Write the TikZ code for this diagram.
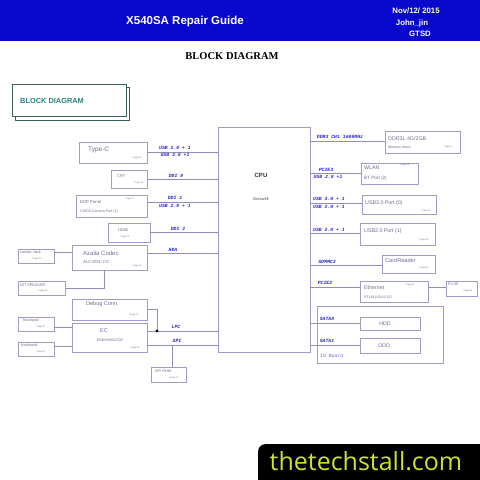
\documentclass[tikz,border=0pt]{standalone}
\usepackage{fontspec}
\setmainfont{Liberation Sans}
\newfontfamily\serifb{Liberation Serif}
\newfontfamily\monof{Liberation Mono}
\newfontfamily\wmfont{Open Sans}
\usetikzlibrary{fit}
\definecolor{hdrblue}{RGB}{8,8,204}
\definecolor{boxc}{RGB}{160,155,200}
\definecolor{linec}{RGB}{145,140,185}
\definecolor{txtc}{RGB}{110,110,150}
\definecolor{labc}{RGB}{40,40,200}
\definecolor{tealc}{RGB}{40,130,130}
\definecolor{framec}{RGB}{60,95,95}
\definecolor{wmc}{RGB}{205,225,45}
\tikzset{
  box/.style={draw=boxc, line width=0.6pt, inner sep=0pt},
  conn/.style={draw=linec, line width=0.6pt},
  bt/.style={text=txtc, inner sep=0pt, anchor=west, font=\fontsize{5}{6}\selectfont},
  pg/.style={text=txtc, inner sep=0pt, font=\fontsize{2.3}{2.6}\selectfont},
  lab/.style={text=labc, inner sep=0pt, font=\monof\bfseries\itshape\fontsize{4.8}{5}\selectfont},
}
\begin{document}
\begin{tikzpicture}[x=1pt,y=-1pt]
\useasboundingbox (0,0) rectangle (480,480);
\fill[white] (0,0) rectangle (480,480);
% header
\node[fill=hdrblue, inner sep=0pt, minimum width=480pt, minimum height=41pt, anchor=north west] (hdr) at (0,0) {};
\node[text=white, font=\bfseries\fontsize{11.5}{13}\selectfont, inner sep=0pt] (title) at (185,22) {X540SA Repair Guide};
\node[text=white, font=\bfseries\fontsize{7.8}{9}\selectfont, inner sep=0pt] (date) at (416,11) {Nov/12/ 2015};
\node[text=white, font=\bfseries\fontsize{7.8}{9}\selectfont, inner sep=0pt] (auth) at (412,23) {John\_jin};
\node[text=white, font=\bfseries\fontsize{7.8}{9}\selectfont, inner sep=0pt] (gtsd) at (420,34) {GTSD};
\node[font=\serifb\bfseries\fontsize{10.5}{12}\selectfont, inner sep=0pt] (bdtitle) at (232,56) {BLOCK DIAGRAM};
% block diagram label
\node[draw=framec, line width=0.6pt, fit={(15,87) (129,120)}, inner sep=0pt] (bdl2) {};
\node[draw=framec, line width=0.6pt, fill=white, fit={(12,84) (126,116)}, inner sep=0pt] (bdl1) {};
\node[text=tealc, font=\bfseries\fontsize{7.4}{9}\selectfont, inner sep=0pt, anchor=west] (bdlt) at (20,101) {BLOCK DIAGRAM};
% CPU
\node[box, fit={(218,127) (310,352)}] (cpu) {};
\node[text=black!80, font=\bfseries\fontsize{6}{7}\selectfont, inner sep=0pt] (cput) at (261,175) {CPU};
\node[text=black!70, font=\fontsize{4}{5}\selectfont, inner sep=0pt] (cpub) at (261,199) {Braswell};
% left boxes
\node[box, fit={(79,142) (147,163)}] (typec) {};
\node[bt, font=\fontsize{6.5}{7}\selectfont] (typect) at (88,150) {Type-C};
\node[pg] (typecp) at (137,158) {Page 30};
\node[box, fit={(111,170) (147,188)}] (crt) {};
\node[bt, font=\fontsize{4}{5}\selectfont] (crtt) at (117,176) {CRT};
\node[pg] (crtp) at (139,183) {Page 40};
\node[box, fit={(76,195) (147,217)}] (edp) {};
\node[bt, font=\fontsize{4.3}{5}\selectfont] (edpt) at (80,202) {EDP Panel};
\node[pg] (edpp) at (130,199) {Page 7?};
\node[bt, font=\fontsize{3.6}{4}\selectfont] (edpt2) at (80,211.5) {CMOS Camera Port (1)};
\node[box, fit={(108,223) (150,242)}] (hdmi) {};
\node[bt, font=\fontsize{4}{5}\selectfont] (hdmit) at (118,230) {HDMI};
\node[pg] (hdmip) at (125,237) {Page 41};
\node[box, fit={(72,245) (147,270)}] (codec) {};
\node[bt, font=\fontsize{6}{7}\selectfont] (codect) at (83,253) {Azalia Codec};
\node[bt, font=\fontsize{4.3}{5}\selectfont] (codect2) at (83,262) {ALC3251-CG};
\node[pg] (codecp) at (137,266) {Page 46};
\node[box, fit={(18,249) (54,263)}] (combo) {};
\node[bt, font=\fontsize{3.8}{4}\selectfont] (combot) at (20,252.5) {combo-Jack};
\node[pg] (combop) at (37,258.5) {Page 4?};
\node[box, fit={(18,281) (65,295)}] (spk) {};
\node[bt, font=\fontsize{3.8}{4}\selectfont] (spkt) at (20,285) {INT SPEAKER};
\node[pg] (spkp) at (43,291) {Page 46};
\node[box, fit={(72,299) (147,320)}] (debug) {};
\node[bt, font=\fontsize{5.5}{6}\selectfont] (debugt) at (86,304) {Debug Conn.};
\node[pg] (debugp) at (134,315) {Page 37};
\node[box, fit={(72,323) (147,352)}] (ec) {};
\node[text=txtc, inner sep=0pt, font=\fontsize{5.5}{6}\selectfont] (ect) at (104,331) {EC};
\node[text=txtc, inner sep=0pt, font=\fontsize{3.6}{4}\selectfont] (ect2) at (110,341) {ENE/KB9022QF};
\node[pg] (ecp) at (135,348) {Page 35};
\node[box, fit={(18,317) (54,331)}] (touch) {};
\node[bt, font=\fontsize{3.8}{4}\selectfont] (toucht) at (22,321) {Touchpad};
\node[pg] (touchp) at (41,327) {Page 3?};
\node[box, fit={(18,342) (54,356)}] (kbd) {};
\node[bt, font=\fontsize{3.8}{4}\selectfont] (kbdt) at (21,345.5) {Keyboard};
\node[pg] (kbdp) at (41,351.5) {Page 3?};
\node[box, fit={(151,367) (186,382)}] (spirom) {};
\node[bt, font=\fontsize{3.8}{4}\selectfont] (spiromt) at (155,371.5) {SPI ROM};
\node[pg] (spiromp) at (174,377.5) {Page 3?};
% right boxes
\node[box, fit={(385,131) (460,153)}] (ddr) {};
\node[bt, font=\fontsize{5.3}{6}\selectfont] (ddrt) at (388,138.5) {DDR3L 4G/2GB};
\node[bt, font=\fontsize{3.6}{4}\selectfont] (ddrt2) at (388,148) {Memory down};
\node[pg] (ddrp) at (448,147) {Page 8};
\node[box, fit={(361,163) (418,184)}] (wlan) {};
\node[bt, font=\fontsize{5.3}{6}\selectfont] (wlant) at (364,167.5) {WLAN};
\node[bt, font=\fontsize{4.6}{5}\selectfont] (wlant2) at (364,178) {BT Port (2)};
\node[pg] (wlanp) at (405,165) {Page 36};
\node[box, fit={(362,195) (436,214)}] (usb30) {};
\node[bt, font=\fontsize{5.3}{6}\selectfont] (usb30t) at (365,203) {USB3.0 Port (0)};
\node[pg] (usb30p) at (426,211) {Page 31};
\node[box, fit={(360,223) (435,245)}] (usb20) {};
\node[bt, font=\fontsize{5.3}{6}\selectfont] (usb20t) at (364,231) {USB2.0 Port (1)};
\node[pg] (usb20p) at (424,240) {Page 32};
\node[box, fit={(382,255) (435,273)}] (card) {};
\node[bt, font=\fontsize{5.6}{6}\selectfont] (cardt) at (385,260) {CardReader};
\node[pg] (cardp) at (424,268) {Page 33};
\node[box, fit={(360,281) (428,302)}] (eth) {};
\node[bt, font=\fontsize{5.3}{6}\selectfont] (etht) at (364,288) {Ethernet};
\node[bt, font=\fontsize{3.5}{4}\selectfont] (etht2) at (364,297.5) {RTL8111GUS-CG};
\node[pg] (ethp) at (410,285) {Page 34};
\node[box, fit={(446,281) (477,296)}] (rj45) {};
\node[bt, font=\fontsize{3.8}{4}\selectfont] (rj45t) at (448,284.5) {RJ-45};
\node[pg] (rj45p) at (468,291) {Page 34};
\node[box, fit={(317,306) (443,363)}] (io) {};
\node[text=labc!70!white, inner sep=0pt, anchor=west, font=\monof\fontsize{4.8}{5}\selectfont] (iot) at (320,356) {IO Board};
\node[box, fit={(360,317) (420,330)}] (hdd) {};
\node[text=txtc, inner sep=0pt, font=\fontsize{5.3}{6}\selectfont] (hddt) at (385,323.5) {HDD};
\node[box, fit={(360,338) (420,353)}] (odd) {};
\node[text=txtc, inner sep=0pt, font=\fontsize{5.3}{6}\selectfont] (oddt) at (384,345.5) {ODD};
% left connectors
\draw[conn] (typec.east |- 0,152) -- (cpu.west |- 0,152);
\node[lab] (l1) at (175,148) {USB 2.0 + 1};
\node[lab] (l2) at (175,155) {USB 3.0 +1};
\draw[conn] (crt.east |- 0,179) -- (cpu.west |- 0,179);
\node[lab] (l3) at (176,175.5) {DDI 0};
\draw[conn] (edp.east |- 0,202) -- (cpu.west |- 0,202);
\node[lab] (l4) at (175,198) {DDI 1};
\node[lab] (l5) at (175,205.5) {USB 2.0 + 1};
\draw[conn] (hdmi.east |- 0,232) -- (cpu.west |- 0,232);
\node[lab] (l6) at (178,229) {DDI 2};
\draw[conn] (codec.east |- 0,253) -- (cpu.west |- 0,253);
\node[lab] (l7) at (173,250) {HDA};
\draw[conn] (combo.east |- 0,252) -- (codec.west |- 0,252);
\draw[conn] (codec.south -| 104,0) -- (104,288) -- (spk.east |- 0,288);
\coordinate (jn) at (157,331);
\draw[conn] (debug.east |- 0,309) -- (157,309) -- (jn);
\draw[conn] (ec.east |- 0,331) -- (cpu.west |- 0,331);
\fill[black] (jn) circle (1.6pt);
\node[lab] (l8) at (176,327) {LPC};
\draw[conn] (ec.east |- 0,345) -- (cpu.west |- 0,345);
\node[lab] (l9) at (177,341) {SPI};
\draw[conn] (spirom.north -| 172,0) -- (172,345);
\draw[conn] (touch.east |- 0,327) -- (ec.west |- 0,327);
\draw[conn] (kbd.east |- 0,346) -- (ec.west |- 0,346);
% right connectors
\draw[conn] (cpu.east |- 0,141) -- (ddr.west |- 0,141);
\node[lab] (r1) at (340,137) {DDR3 CH1 1600MHz};
\draw[conn] (cpu.east |- 0,173) -- (wlan.west |- 0,173);
\node[lab] (r2) at (326,169.5) {PCIE3};
\node[lab] (r3) at (328,177) {USB 2.0 +1};
\draw[conn] (cpu.east |- 0,203) -- (usb30.west |- 0,203);
\node[lab] (r4) at (329,199) {USB 3.0 + 1};
\node[lab] (r5) at (329,206.5) {USB 2.0 + 1};
\draw[conn] (cpu.east |- 0,233) -- (usb20.west |- 0,233);
\node[lab] (r6) at (329,229.5) {USB 2.0 + 1};
\draw[conn] (cpu.east |- 0,265) -- (card.west |- 0,265);
\node[lab] (r7) at (327,261.5) {SDMMC3};
\draw[conn] (cpu.east |- 0,287) -- (eth.west |- 0,287);
\node[lab] (r8) at (325,283) {PCIE2};
\draw[conn] (eth.east |- 0,287) -- (rj45.west |- 0,287);
\draw[conn] (cpu.east |- 0,323) -- (hdd.west |- 0,323);
\node[lab] (r9) at (327,319) {SATA0};
\draw[conn] (cpu.east |- 0,345) -- (odd.west |- 0,345);
\node[lab] (r10) at (327,341) {SATA1};
% watermark
\node[fill=black, rounded corners=7pt, inner sep=0pt, minimum width=240pt, minimum height=50pt, anchor=north west] (wmbox) at (258,444) {};
\node[text=wmc, inner sep=0pt, font=\wmfont\fontsize{25}{28}\selectfont] (wmt) at (366,461) {thetechstall.com};
\end{tikzpicture}
\end{document}
